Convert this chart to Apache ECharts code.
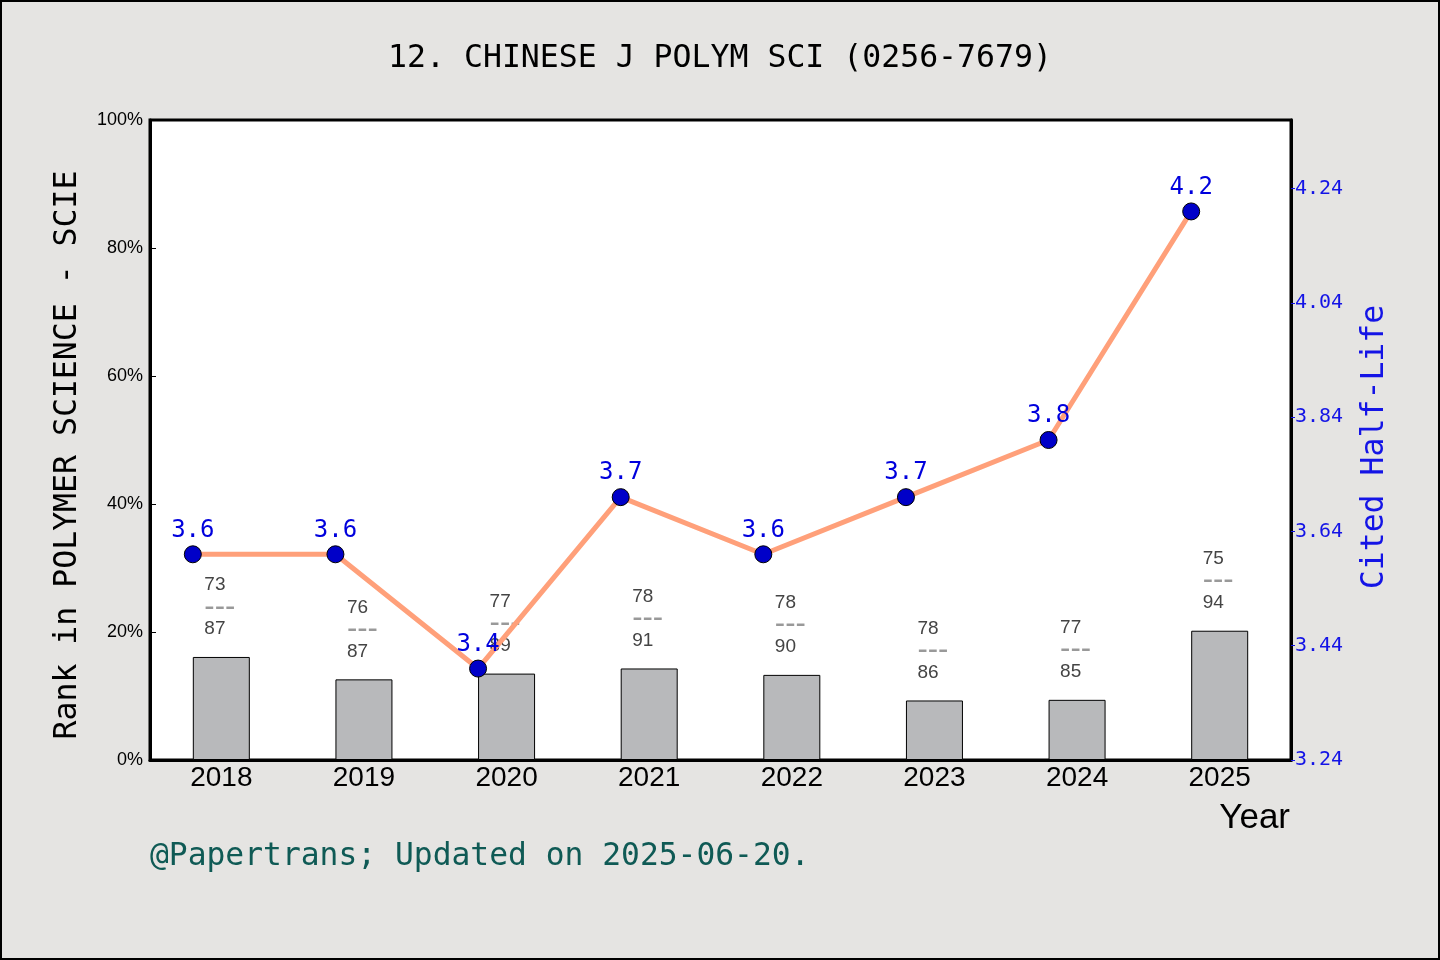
<!DOCTYPE html>
<html>
<head>
<meta charset="utf-8">
<title>CHINESE J POLYM SCI</title>
<script src="https://cdn.jsdelivr.net/npm/echarts@6/dist/echarts.min.js"></script>
<style>
  html, body { margin: 0; padding: 0; background: #e5e4e2; }
  #chart { width: 1440px; height: 960px; }
</style>
</head>
<body>
<div id="chart"></div>
<script>
// values
const years = ['2018', '2019', '2020', '2021', '2022', '2023', '2024', '2025'];
const rankPct = [16.1, 12.6, 13.5, 14.3, 13.3, 9.3, 9.4, 20.2];   // bar height, % of category
const rankNo = [73, 76, 77, 78, 78, 78, 77, 75];
const rankTotal = [87, 87, 89, 91, 90, 86, 85, 94];
const halfLife = [3.6, 3.6, 3.4, 3.7, 3.6, 3.7, 3.8, 4.2];

const MONO = '"DejaVu Sans Mono", "Liberation Mono", monospace';
const SANS = '"Liberation Sans", Arial, sans-serif';
const BLUE = '#1414e6';
const HL_MIN = 3.24, HL_MAX = 4.36;

const chart = echarts.init(document.getElementById('chart'));

// the line points sit on the left edge of each bar, so the line lives in a
// second grid shifted left by half a bar width
const option = {
  backgroundColor: '#e5e4e2',
  animation: false,
  title: {
    text: '12. CHINESE J POLYM SCI (0256-7679)',
    left: 'center',
    top: 38,
    textStyle: { fontFamily: MONO, fontSize: 31.5, fontWeight: 'normal', color: '#000' },
  },
  grid: [
    {
      left: 150, right: 149, top: 120, bottom: 200,
      show: true, backgroundColor: '#fff', borderColor: '#000', borderWidth: 3,
    },
    { left: 121.5, right: 177.5, top: 120, bottom: 200, show: false },
  ],
  xAxis: [
    {
      type: 'category',
      gridIndex: 0,
      data: years,
      axisLine: { lineStyle: { color: '#000', width: 3 } },
      axisTick: { inside: true, length: 6, lineStyle: { color: '#000', width: 1 } },
      axisLabel: { fontFamily: SANS, fontSize: 28, color: '#000', margin: 4 },
      name: 'Year',
      nameLocation: 'end',
      nameGap: 0,
      nameTextStyle: {
        fontFamily: SANS, fontSize: 35, color: '#000',
        align: 'right', verticalAlign: 'top', padding: [41, 1, 0, 0],
      },
    },
    { type: 'category', gridIndex: 1, data: years, show: false },
  ],
  yAxis: [
    {
      type: 'value',
      gridIndex: 0,
      min: 0, max: 100, interval: 20,
      axisLine: { show: true, lineStyle: { color: '#000', width: 3 } },
      axisTick: { show: true, inside: true, length: 6, lineStyle: { color: '#000' } },
      axisLabel: { formatter: '{value}%', fontFamily: SANS, fontSize: 18, color: '#000', margin: 7 },
      splitLine: { show: false },
      name: 'Rank in POLYMER SCIENCE - SCIE',
      nameLocation: 'middle',
      nameRotate: 90,
      nameGap: 66,
      nameTextStyle: { fontFamily: MONO, fontSize: 31.5, color: '#000', padding: [0, 30, 0, 0] },
    },
    {
      type: 'value',
      gridIndex: 0,
      position: 'right',
      min: HL_MIN, max: HL_MAX, interval: 0.2,
      axisLine: { show: true, lineStyle: { color: '#000', width: 3 } },
      axisTick: { show: true, length: 4, lineStyle: { color: BLUE } },
      axisLabel: {
        fontFamily: MONO, fontSize: 20, color: BLUE, margin: 4,
        showMaxLabel: false,
        formatter: (v) => v.toFixed(2),
      },
      splitLine: { show: false },
      name: 'Cited Half-Life',
      nameLocation: 'middle',
      nameRotate: 90,
      nameGap: 68,
      nameTextStyle: { fontFamily: MONO, fontSize: 31.5, color: BLUE, padding: [0, 14, 0, 0] },
    },
    { type: 'value', gridIndex: 1, min: HL_MIN, max: HL_MAX, show: false, splitLine: { show: false } },
  ],
  series: [
    {
      type: 'bar',
      xAxisIndex: 0,
      yAxisIndex: 0,
      data: rankPct,
      barWidth: 57,
      itemStyle: { color: '#b8b9bb', borderColor: '#000', borderWidth: 1 },
      label: {
        show: true,
        position: 'top',
        distance: 17,
        formatter: (p) => `{n|${rankNo[p.dataIndex]}}\n{d|---}\n{n|${rankTotal[p.dataIndex]}}`,
        rich: {
          n: { fontFamily: SANS, fontSize: 19, color: '#444', width: 34, align: 'left', lineHeight: 22 },
          d: { fontFamily: SANS, fontSize: 31, color: '#999', width: 34, align: 'left', lineHeight: 22 },
        },
      },
      z: 2,
    },
    {
      type: 'line',
      xAxisIndex: 1,
      yAxisIndex: 2,
      data: halfLife,
      lineStyle: { color: '#ffa07a', width: 5 },
      symbol: 'circle',
      symbolSize: 17,
      itemStyle: { color: '#0000c8', borderColor: '#000', borderWidth: 1 },
      label: {
        show: true,
        position: 'top',
        distance: 3,
        fontFamily: MONO, fontSize: 24, color: '#0000dd',
        formatter: (p) => p.value.toFixed(1),
      },
      z: 3,
    },
  ],
  graphic: [
    {
      type: 'text',
      left: 150,
      top: 841,
      style: {
        text: '@Papertrans; Updated on 2025-06-20.',
        fontFamily: MONO, fontSize: 31.3, fill: '#0f5a55',
      },
    },
    {
      type: 'rect',
      silent: true,
      shape: { x: 1, y: 1, width: 1438, height: 958 },
      style: { fill: 'none', stroke: '#000', lineWidth: 2 },
    },
  ],
};

chart.setOption(option);
</script>
</body>
</html>
